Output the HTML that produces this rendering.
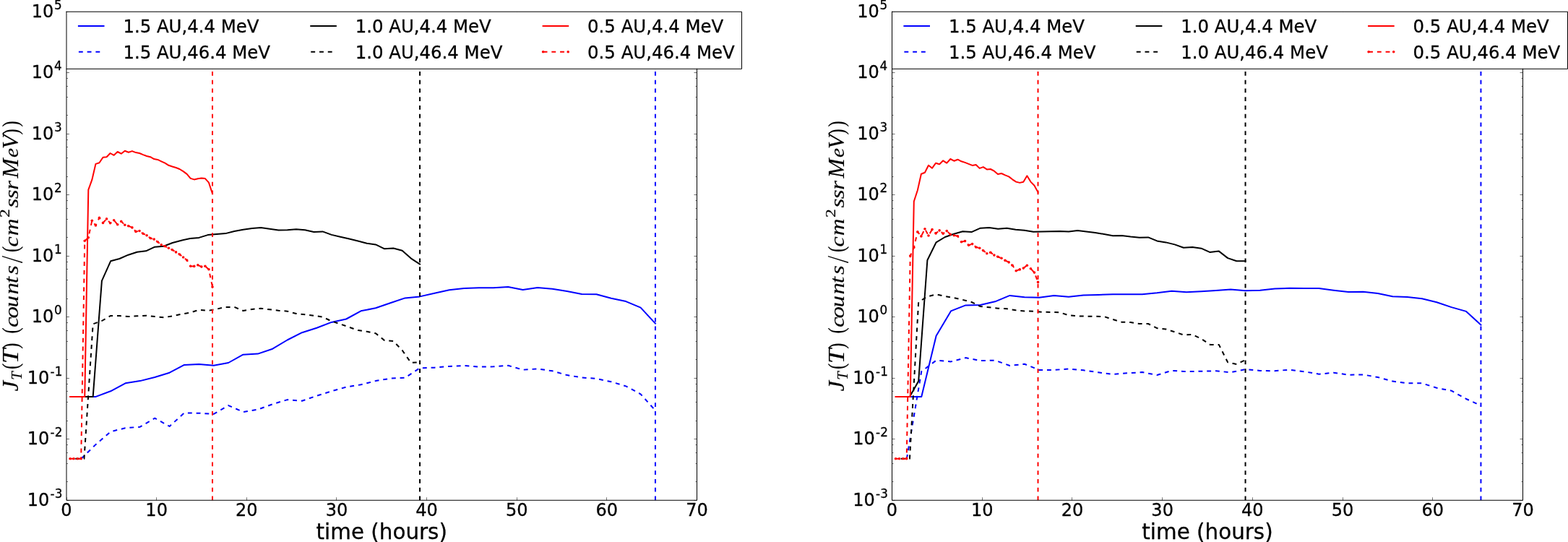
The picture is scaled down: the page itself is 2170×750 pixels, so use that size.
<!DOCTYPE html>
<html lang="en"><head><meta charset="utf-8"><title>J_T(T) versus time</title>
<style>html,body{margin:0;padding:0;background:#fff}body{width:2170px;height:750px;overflow:hidden}svg{display:block}text{font-family:'DejaVu Sans','Liberation Sans',sans-serif;fill:#000}.d text{stroke:#000;stroke-width:0.3px;stroke-linejoin:round}.m{font-family:'Liberation Serif','DejaVu Serif',serif;font-style:italic}.r{font-family:'Liberation Serif','DejaVu Serif',serif;font-style:normal}</style>
</head><body>
<svg width="2170" height="750" viewBox="0 0 2170 750">
<rect width="2170" height="750" fill="#fff"/>
<defs>
<clipPath id="c0"><rect x="92" y="16.25" width="872.5" height="676"/></clipPath>
<clipPath id="c1"><rect x="1234.5" y="16.25" width="873" height="676"/></clipPath>
</defs>
<g clip-path="url(#c0)">
<polyline points="112.37,548.9 132.75,548.9 153.12,541.3 173.49,530.3 193.87,527.1 214.24,522 234.62,515.7 254.99,504.9 275.36,504 295.74,505.7 316.11,502 336.48,490.7 356.86,489.6 377.23,482.7 397.6,470.5 417.98,460.2 438.35,453.8 458.73,445.9 479.1,441.5 499.47,430.3 519.85,426.3 540.22,419.3 560.59,412.4 580.97,410.4 601.34,405.7 621.71,401.3 642.09,398.9 662.46,398.3 682.84,398.3 703.21,396.9 723.58,401.1 743.96,398 764.33,399.7 784.7,402.9 805.08,406.9 825.45,407.2 845.83,412.8 866.2,417.1 886.57,425.6 906.95,447.7" fill="none" stroke="#0000ff" stroke-width="2" stroke-linejoin="round" stroke-linecap="square"/>
<polyline points="112.37,634.7 132.75,614.9 153.12,597.3 173.49,592.3 193.87,590.7 214.24,578.7 234.62,590 254.99,571.3 275.36,571.7 295.74,572.9 316.11,561.1 336.48,570 356.86,566.7 377.23,559.3 397.6,553.1 417.98,554.7 438.35,547.7 458.73,541.3 479.1,535.6 499.47,532.3 519.85,527.1 540.22,523.7 560.59,522.7 580.97,509.3 601.34,508.7 621.71,506.9 642.09,506 662.46,507.7 682.84,507.3 703.21,505.8 723.58,511.7 743.96,510.4 764.33,513.3 784.7,519.1 805.08,522.4 825.45,524 845.83,528.3 866.2,534.4 886.57,545.3 906.95,568" fill="none" stroke="#0000ff" stroke-width="2" stroke-linejoin="round" stroke-linecap="butt" stroke-dasharray="5.875 5.875"/>
<polyline points="104.23,548.9 116.45,548.9 128.68,548.9 140.91,388.7 153.13,361.3 165.36,358 177.58,352.7 189.81,348.7 202.04,347.3 214.26,341.7 226.49,340.7 238.72,336 250.94,332.7 263.17,330 275.4,328.9 287.62,325.1 299.85,324 312.07,323.1 324.3,320 336.53,317.7 348.75,316 360.98,314.9 373.21,316.7 385.43,318.4 397.66,318.3 409.89,317.3 422.11,318.3 434.34,320.9 446.56,320.4 458.79,324.9 471.02,327.7 483.24,330.5 495.47,333.5 507.7,336.7 519.92,338.4 532.15,344.3 544.38,343.5 556.6,346.7 568.83,357.6 581.05,365.6" fill="none" stroke="#000000" stroke-width="2" stroke-linejoin="round" stroke-linecap="square"/>
<polyline points="104.23,634.8 116.45,634.8 128.68,448.4 140.91,444 153.13,436.9 165.36,437.1 177.58,438 189.81,437.3 202.04,436.7 214.26,438.1 226.49,439.3 238.72,437.3 250.94,434.7 263.17,432.7 275.4,428.7 287.62,430 299.85,427.7 312.07,424.9 324.3,424.9 336.53,430 348.75,428 360.98,426.7 373.21,428.3 385.43,429.7 397.66,430.7 409.89,434 422.11,435.3 434.34,436.7 446.56,438.7 458.79,444.4 471.02,448.4 483.24,452.7 495.47,457.1 507.7,458.8 519.92,461.3 532.15,471.1 544.38,472 556.6,484.7 568.83,502 581.05,501.1" fill="none" stroke="#000000" stroke-width="2" stroke-linejoin="round" stroke-linecap="butt" stroke-dasharray="5.875 5.875"/>
<polyline points="97.05,548.9 102.1,548.9 107.15,548.9 112.2,548.9 117.25,548.9 122.3,262.7 127.35,248.7 132.4,226.9 137.45,225.3 142.5,217.7 147.55,217.3 152.6,212 157.65,214.8 162.7,210 167.75,212.7 172.8,208.7 177.85,210.7 182.9,209.1 187.95,211.1 193,212 198.05,214.1 203.1,216 208.15,217.2 213.2,220.1 218.25,220.9 223.3,223.3 228.35,225.6 233.4,228.8 238.46,230.5 243.51,232 248.56,234 253.61,237.1 258.66,240.9 263.71,246.9 268.76,248.4 273.81,247.3 278.86,246.5 283.91,247.1 288.96,252.7 294.01,268" fill="none" stroke="#ff0000" stroke-width="2" stroke-linejoin="round" stroke-linecap="square"/>
<polyline points="97.05,634.8 102.1,634.8 107.15,634.8 112.2,634.8 117.25,333.3 122.3,328.7 127.35,305.3 132.4,312 137.45,301.3 142.5,308.4 147.55,302.9 152.6,308.7 157.65,304.7 162.7,310.7 167.75,306.4 172.8,311.3 177.85,312.7 182.9,314.9 187.95,320.4 193,319.5 198.05,323.3 203.1,325.7 208.15,329.6 213.2,331.1 218.25,334.7 223.3,338.7 228.35,340.7 233.4,343.3 238.46,345.7 243.51,348.9 248.56,352 253.61,356 258.66,360 263.71,368.3 268.76,368.4 273.81,366.8 278.86,369.1 283.91,368.3 288.96,372.7 294.01,397" fill="none" stroke="#ff0000" stroke-width="2" stroke-linejoin="round" stroke-linecap="butt" stroke-dasharray="5.875 5.875"/><g fill="#ff0000"><circle cx="97.05" cy="634.8" r="1.8"/><circle cx="102.1" cy="634.8" r="1.8"/><circle cx="107.15" cy="634.8" r="1.8"/><circle cx="112.2" cy="634.8" r="1.8"/><circle cx="117.25" cy="333.3" r="1.8"/><circle cx="122.3" cy="328.7" r="1.8"/><circle cx="127.35" cy="305.3" r="1.8"/><circle cx="132.4" cy="312" r="1.8"/><circle cx="137.45" cy="301.3" r="1.8"/><circle cx="142.5" cy="308.4" r="1.8"/><circle cx="147.55" cy="302.9" r="1.8"/><circle cx="152.6" cy="308.7" r="1.8"/><circle cx="157.65" cy="304.7" r="1.8"/><circle cx="162.7" cy="310.7" r="1.8"/><circle cx="167.75" cy="306.4" r="1.8"/><circle cx="172.8" cy="311.3" r="1.8"/><circle cx="177.85" cy="312.7" r="1.8"/><circle cx="182.9" cy="314.9" r="1.8"/><circle cx="187.95" cy="320.4" r="1.8"/><circle cx="193" cy="319.5" r="1.8"/><circle cx="198.05" cy="323.3" r="1.8"/><circle cx="203.1" cy="325.7" r="1.8"/><circle cx="208.15" cy="329.6" r="1.8"/><circle cx="213.2" cy="331.1" r="1.8"/><circle cx="218.25" cy="334.7" r="1.8"/><circle cx="223.3" cy="338.7" r="1.8"/><circle cx="228.35" cy="340.7" r="1.8"/><circle cx="233.4" cy="343.3" r="1.8"/><circle cx="238.46" cy="345.7" r="1.8"/><circle cx="243.51" cy="348.9" r="1.8"/><circle cx="248.56" cy="352" r="1.8"/><circle cx="253.61" cy="356" r="1.8"/><circle cx="258.66" cy="360" r="1.8"/><circle cx="263.71" cy="368.3" r="1.8"/><circle cx="268.76" cy="368.4" r="1.8"/><circle cx="273.81" cy="366.8" r="1.8"/><circle cx="278.86" cy="369.1" r="1.8"/><circle cx="283.91" cy="368.3" r="1.8"/><circle cx="288.96" cy="372.7" r="1.8"/><circle cx="294.01" cy="397" r="1.8"/></g>
<line x1="294.01" y1="692.25" x2="294.01" y2="16.25" stroke="#ff0000" stroke-width="2" stroke-dasharray="5.875 5.875"/>
<line x1="581.05" y1="692.25" x2="581.05" y2="16.25" stroke="#000000" stroke-width="2" stroke-dasharray="5.875 5.875"/>
<line x1="906.95" y1="692.25" x2="906.95" y2="16.25" stroke="#0000ff" stroke-width="2" stroke-dasharray="5.875 5.875"/>
</g>
<path d="M92.5,692.25v-4M92.5,16.25v4M216.5,692.25v-4M216.5,16.25v4M341.5,692.25v-4M341.5,16.25v4M465.5,692.25v-4M465.5,16.25v4M590.5,692.25v-4M590.5,16.25v4M715.5,692.25v-4M715.5,16.25v4M839.5,692.25v-4M839.5,16.25v4M964.5,692.25v-4M964.5,16.25v4M92,692.5h4M964.5,692.5h-4M92,607.5h4M964.5,607.5h-4M92,523.5h4M964.5,523.5h-4M92,438.5h4M964.5,438.5h-4M92,354.5h4M964.5,354.5h-4M92,269.5h4M964.5,269.5h-4M92,185.5h4M964.5,185.5h-4M92,100.5h4M964.5,100.5h-4M92,16.5h4M964.5,16.5h-4" stroke="#000" stroke-width="0.55" fill="none"/>
<path d="M92,666.5h2M964.5,666.5h-2M92,641.5h2M964.5,641.5h-2M92,626.5h2M964.5,626.5h-2M92,615.5h2M964.5,615.5h-2M92,582.5h2M964.5,582.5h-2M92,556.5h2M964.5,556.5h-2M92,541.5h2M964.5,541.5h-2M92,531.5h2M964.5,531.5h-2M92,497.5h2M964.5,497.5h-2M92,472.5h2M964.5,472.5h-2M92,457.5h2M964.5,457.5h-2M92,446.5h2M964.5,446.5h-2M92,413.5h2M964.5,413.5h-2M92,387.5h2M964.5,387.5h-2M92,372.5h2M964.5,372.5h-2M92,362.5h2M964.5,362.5h-2M92,328.5h2M964.5,328.5h-2M92,303.5h2M964.5,303.5h-2M92,288.5h2M964.5,288.5h-2M92,277.5h2M964.5,277.5h-2M92,244.5h2M964.5,244.5h-2M92,218.5h2M964.5,218.5h-2M92,203.5h2M964.5,203.5h-2M92,193.5h2M964.5,193.5h-2M92,159.5h2M964.5,159.5h-2M92,134.5h2M964.5,134.5h-2M92,119.5h2M964.5,119.5h-2M92,108.5h2M964.5,108.5h-2M92,75.5h2M964.5,75.5h-2M92,49.5h2M964.5,49.5h-2M92,34.5h2M964.5,34.5h-2M92,24.5h2M964.5,24.5h-2" stroke="#000" stroke-width="0.55" fill="none"/>
<rect x="92" y="16.25" width="934.5" height="79.1" fill="#fff"/>
<path d="M92,16.25H1026.5V95.35H92M92,16.25V692.25H964.5V95.35" fill="none" stroke="#000" stroke-width="1" stroke-linecap="square"/>
<g class="d" font-size="24" text-anchor="middle">
<text transform="translate(92,714.4) scale(1,1.03)">0</text>
<text transform="translate(216.64,714.4) scale(1,1.03)">10</text>
<text transform="translate(341.29,714.4) scale(1,1.03)">20</text>
<text transform="translate(465.93,714.4) scale(1,1.03)">30</text>
<text transform="translate(590.57,714.4) scale(1,1.03)">40</text>
<text transform="translate(715.21,714.4) scale(1,1.03)">50</text>
<text transform="translate(839.86,714.4) scale(1,1.03)">60</text>
<text transform="translate(964.5,714.4) scale(1,1.03)">70</text>
</g>
<g class="d">
<text x="37.8" y="699.75" font-size="24">10</text><text x="69.6" y="688.55" font-size="16.8">-3</text>
<text x="37.8" y="615.25" font-size="24">10</text><text x="69.6" y="604.05" font-size="16.8">-2</text>
<text x="37.8" y="530.75" font-size="24">10</text><text x="69.6" y="519.55" font-size="16.8">-1</text>
<text x="43.8" y="446.25" font-size="24">10</text><text x="75.1" y="435.05" font-size="16.8">0</text>
<text x="43.8" y="361.75" font-size="24">10</text><text x="75.1" y="350.55" font-size="16.8">1</text>
<text x="43.8" y="277.25" font-size="24">10</text><text x="75.1" y="266.05" font-size="16.8">2</text>
<text x="43.8" y="192.75" font-size="24">10</text><text x="75.1" y="181.55" font-size="16.8">3</text>
<text x="43.8" y="108.25" font-size="24">10</text><text x="75.1" y="97.05" font-size="16.8">4</text>
<text x="43.8" y="23.75" font-size="24">10</text><text x="75.1" y="12.55" font-size="16.8">5</text>
</g>
<g class="d"><text x="528.25" y="745.8" font-size="29.4" text-anchor="middle">time (hours)</text></g>
<g transform="translate(25.1,542) rotate(-90)" stroke="#000" stroke-width="0.15" stroke-linejoin="round">
<text class="m" font-size="31" transform="scale(1.06,1)" x="0.53" y="0">J</text><text class="m" font-size="20.6" transform="scale(1,1)" x="16.24" y="5.2">T</text><text class="r" font-size="32.3" transform="scale(0.76,1)" x="40.95" y="0">(</text><text class="m" font-size="31" transform="scale(1.2,1)" x="32.37" y="0">T</text><text class="r" font-size="32.3" transform="scale(0.76,1)" x="77.9" y="0">)</text><text class="r" font-size="32.3" transform="scale(0.76,1)" x="105.95" y="0">(</text><text class="m" font-size="28.2" transform="scale(1.17,1)" x="76.15 86.75 99.59 114.96 128.3 138.36" y="0">counts</text><text class="m" font-size="43" transform="scale(0.58,1)" x="308.89" y="6.3">/</text><text class="r" font-size="32.3" transform="scale(0.76,1)" x="253.97" y="0">(</text><text class="m" font-size="28.2" transform="scale(1.17,1)" x="171.24 184.34" y="0">cm</text><text class="r" font-size="19.6" transform="scale(1.2,1)" x="200.84" y="-11.8">2</text><text class="m" font-size="28.2" transform="scale(1.17,1)" x="217.63 228.1 238.77" y="0">ssr</text><text class="m" font-size="31" transform="scale(1.05,1)" x="281.56 308.62 319.66" y="0">M<tspan font-size="28.2">e</tspan>V</text><text class="r" font-size="32.3" transform="scale(0.76,1)" x="467.77 482.25" y="0">))</text>
</g>
<g class="d" font-size="24.4">
<line x1="108.9" y1="36" x2="143.5" y2="36" stroke="#0000ff" stroke-width="2" stroke-linecap="square"/>
<text transform="translate(170.4,45) scale(1,1.04)">1.5 AU,4.4 MeV</text>
<line x1="108.9" y1="71.7" x2="143.5" y2="71.7" stroke="#0000ff" stroke-width="2" stroke-dasharray="5.875 5.875"/>
<text transform="translate(170.4,80.6) scale(1,1.04)">1.5 AU,46.4 MeV</text>
<line x1="430.25" y1="36" x2="464.85" y2="36" stroke="#000000" stroke-width="2" stroke-linecap="square"/>
<text transform="translate(491.75,45) scale(1,1.04)">1.0 AU,4.4 MeV</text>
<line x1="430.25" y1="71.7" x2="464.85" y2="71.7" stroke="#000000" stroke-width="2" stroke-dasharray="5.875 5.875"/>
<text transform="translate(491.75,80.6) scale(1,1.04)">1.0 AU,46.4 MeV</text>
<line x1="751.6" y1="36" x2="786.2" y2="36" stroke="#ff0000" stroke-width="2" stroke-linecap="square"/>
<text transform="translate(813.1,45) scale(1,1.04)">0.5 AU,4.4 MeV</text>
<line x1="751.6" y1="71.7" x2="786.2" y2="71.7" stroke="#ff0000" stroke-width="2" stroke-dasharray="5.875 5.875"/>
<circle cx="751.6" cy="71.7" r="1.8" fill="#ff0000"/><circle cx="786.2" cy="71.7" r="1.8" fill="#ff0000"/>
<text transform="translate(813.1,80.6) scale(1,1.04)">0.5 AU,46.4 MeV</text>
</g>
<g clip-path="url(#c1)">
<polyline points="1254.87,548.9 1275.25,548.9 1295.62,464.7 1315.99,430.4 1336.37,422.4 1356.74,422 1377.12,417.3 1397.49,408.9 1417.86,411.3 1438.24,411.8 1458.61,408.9 1478.98,410.7 1499.36,408.4 1519.73,408 1540.1,407.3 1560.48,407.3 1580.85,407.3 1601.23,405.3 1621.6,402.7 1641.97,404.2 1662.35,403.3 1682.72,402 1703.09,400.4 1723.47,402.3 1743.84,401.7 1764.21,399.6 1784.59,398.7 1804.96,398.9 1825.34,399.1 1845.71,401.7 1866.08,404 1886.46,403.7 1906.83,406 1927.2,410.2 1947.58,411.1 1967.95,413.2 1988.33,418.2 2008.7,425.1 2029.07,430.9 2049.45,449.6" fill="none" stroke="#0000ff" stroke-width="2" stroke-linejoin="round" stroke-linecap="square"/>
<polyline points="1254.87,634.8 1275.25,514 1295.62,498.7 1315.99,500.4 1336.37,495.1 1356.74,499.1 1377.12,498.7 1397.49,506 1417.86,503.7 1438.24,512 1458.61,512 1478.98,510.4 1499.36,512.3 1519.73,515.3 1540.1,518 1560.48,516.3 1580.85,515.1 1601.23,519 1621.6,512.8 1641.97,514.2 1662.35,513.7 1682.72,513.3 1703.09,515.3 1723.47,511.1 1743.84,512.9 1764.21,513.3 1784.59,511.6 1804.96,514.2 1825.34,517.7 1845.71,515.7 1866.08,518.7 1886.46,518.4 1906.83,522 1927.2,527.6 1947.58,530.3 1967.95,530.3 1988.33,536.8 2008.7,540.7 2029.07,552 2049.45,561.3" fill="none" stroke="#0000ff" stroke-width="2" stroke-linejoin="round" stroke-linecap="butt" stroke-dasharray="5.875 5.875"/>
<polyline points="1246.73,548.9 1258.95,548.9 1271.18,527.3 1283.41,360 1295.63,335.3 1307.86,328 1320.08,323.7 1332.31,320.3 1344.54,321.1 1356.76,315.7 1368.99,315.1 1381.22,316.7 1393.44,315.7 1405.67,317.7 1417.9,318.7 1430.12,320.7 1442.35,320.5 1454.57,320.3 1466.8,320 1479.03,320.4 1491.25,319.1 1503.48,320.4 1515.71,322 1527.93,324 1540.16,326.3 1552.39,326 1564.61,327.6 1576.84,328.7 1589.06,328.4 1601.29,333.4 1613.52,335.4 1625.74,338.4 1637.97,342.8 1650.2,341.9 1662.42,343.7 1674.65,349.1 1686.88,347.6 1699.1,357.1 1711.33,361.3 1723.55,361.3" fill="none" stroke="#000000" stroke-width="2" stroke-linejoin="round" stroke-linecap="square"/>
<polyline points="1246.73,634.8 1258.95,634.8 1271.18,418 1283.41,410.4 1295.63,407.3 1307.86,410 1320.08,412 1332.31,414.9 1344.54,418 1356.76,424 1368.99,425.3 1381.22,426.7 1393.44,427.3 1405.67,429.3 1417.9,430.4 1430.12,430.7 1442.35,431.7 1454.57,432 1466.8,432.3 1479.03,436.3 1491.25,437.3 1503.48,437.7 1515.71,437.7 1527.93,438 1540.16,442 1552.39,445.7 1564.61,446 1576.84,448 1589.06,448 1601.29,454.2 1613.52,455.5 1625.74,459.4 1637.97,463.5 1650.2,462.8 1662.42,468.8 1674.65,476.9 1686.88,476.9 1699.1,501.3 1711.33,504 1723.55,498" fill="none" stroke="#000000" stroke-width="2" stroke-linejoin="round" stroke-linecap="butt" stroke-dasharray="5.875 5.875"/>
<polyline points="1239.55,548.9 1244.6,548.9 1249.65,548.9 1254.7,548.9 1259.75,548.9 1264.8,278.7 1269.85,263.3 1274.9,240.7 1279.95,238.7 1285,228.7 1290.05,232.7 1295.1,225.7 1300.15,227.3 1305.2,222.3 1310.25,225.7 1315.3,220 1320.35,222.7 1325.4,220.7 1330.45,223.3 1335.5,224.9 1340.55,226.9 1345.6,228.9 1350.65,228 1355.7,232.9 1360.75,231.1 1365.8,234.4 1370.85,234 1375.9,236.7 1380.96,241.1 1386.01,240 1391.06,242.4 1396.11,244.4 1401.16,248.3 1406.21,251.6 1411.26,252.9 1416.31,251.7 1421.36,243.3 1426.41,251.6 1431.46,256.7 1436.51,266" fill="none" stroke="#ff0000" stroke-width="2" stroke-linejoin="round" stroke-linecap="square"/>
<polyline points="1239.55,634.8 1244.6,634.8 1249.65,634.8 1254.7,634.8 1259.75,354 1264.8,342.4 1269.85,320.7 1274.9,326.9 1279.95,316.7 1285,326 1290.05,317.6 1295.1,322.9 1300.15,318.9 1305.2,323.3 1310.25,319.6 1315.3,324.4 1320.35,325.7 1325.4,326.7 1330.45,334.7 1335.5,333.6 1340.55,339.3 1345.6,337.6 1350.65,342 1355.7,343.3 1360.75,346.7 1365.8,350.7 1370.85,349.3 1375.9,353.1 1380.96,355.3 1386.01,357.3 1391.06,360.4 1396.11,362.9 1401.16,367.3 1406.21,374.7 1411.26,372.9 1416.31,371.1 1421.36,367.3 1426.41,371.7 1431.46,377.1 1436.51,390.4" fill="none" stroke="#ff0000" stroke-width="2" stroke-linejoin="round" stroke-linecap="butt" stroke-dasharray="5.875 5.875"/><g fill="#ff0000"><circle cx="1239.55" cy="634.8" r="1.8"/><circle cx="1244.6" cy="634.8" r="1.8"/><circle cx="1249.65" cy="634.8" r="1.8"/><circle cx="1254.7" cy="634.8" r="1.8"/><circle cx="1259.75" cy="354" r="1.8"/><circle cx="1264.8" cy="342.4" r="1.8"/><circle cx="1269.85" cy="320.7" r="1.8"/><circle cx="1274.9" cy="326.9" r="1.8"/><circle cx="1279.95" cy="316.7" r="1.8"/><circle cx="1285" cy="326" r="1.8"/><circle cx="1290.05" cy="317.6" r="1.8"/><circle cx="1295.1" cy="322.9" r="1.8"/><circle cx="1300.15" cy="318.9" r="1.8"/><circle cx="1305.2" cy="323.3" r="1.8"/><circle cx="1310.25" cy="319.6" r="1.8"/><circle cx="1315.3" cy="324.4" r="1.8"/><circle cx="1320.35" cy="325.7" r="1.8"/><circle cx="1325.4" cy="326.7" r="1.8"/><circle cx="1330.45" cy="334.7" r="1.8"/><circle cx="1335.5" cy="333.6" r="1.8"/><circle cx="1340.55" cy="339.3" r="1.8"/><circle cx="1345.6" cy="337.6" r="1.8"/><circle cx="1350.65" cy="342" r="1.8"/><circle cx="1355.7" cy="343.3" r="1.8"/><circle cx="1360.75" cy="346.7" r="1.8"/><circle cx="1365.8" cy="350.7" r="1.8"/><circle cx="1370.85" cy="349.3" r="1.8"/><circle cx="1375.9" cy="353.1" r="1.8"/><circle cx="1380.96" cy="355.3" r="1.8"/><circle cx="1386.01" cy="357.3" r="1.8"/><circle cx="1391.06" cy="360.4" r="1.8"/><circle cx="1396.11" cy="362.9" r="1.8"/><circle cx="1401.16" cy="367.3" r="1.8"/><circle cx="1406.21" cy="374.7" r="1.8"/><circle cx="1411.26" cy="372.9" r="1.8"/><circle cx="1416.31" cy="371.1" r="1.8"/><circle cx="1421.36" cy="367.3" r="1.8"/><circle cx="1426.41" cy="371.7" r="1.8"/><circle cx="1431.46" cy="377.1" r="1.8"/><circle cx="1436.51" cy="390.4" r="1.8"/></g>
<line x1="1436.51" y1="692.25" x2="1436.51" y2="16.25" stroke="#ff0000" stroke-width="2" stroke-dasharray="5.875 5.875"/>
<line x1="1723.55" y1="692.25" x2="1723.55" y2="16.25" stroke="#000000" stroke-width="2" stroke-dasharray="5.875 5.875"/>
<line x1="2049.45" y1="692.25" x2="2049.45" y2="16.25" stroke="#0000ff" stroke-width="2" stroke-dasharray="5.875 5.875"/>
</g>
<path d="M1234.5,692.25v-4M1234.5,16.25v4M1359.5,692.25v-4M1359.5,16.25v4M1483.5,692.25v-4M1483.5,16.25v4M1608.5,692.25v-4M1608.5,16.25v4M1733.5,692.25v-4M1733.5,16.25v4M1858.5,692.25v-4M1858.5,16.25v4M1982.5,692.25v-4M1982.5,16.25v4M2107.5,692.25v-4M2107.5,16.25v4M1234.5,692.5h4M2107.5,692.5h-4M1234.5,607.5h4M2107.5,607.5h-4M1234.5,523.5h4M2107.5,523.5h-4M1234.5,438.5h4M2107.5,438.5h-4M1234.5,354.5h4M2107.5,354.5h-4M1234.5,269.5h4M2107.5,269.5h-4M1234.5,185.5h4M2107.5,185.5h-4M1234.5,100.5h4M2107.5,100.5h-4M1234.5,16.5h4M2107.5,16.5h-4" stroke="#000" stroke-width="0.55" fill="none"/>
<path d="M1234.5,666.5h2M2107.5,666.5h-2M1234.5,641.5h2M2107.5,641.5h-2M1234.5,626.5h2M2107.5,626.5h-2M1234.5,615.5h2M2107.5,615.5h-2M1234.5,582.5h2M2107.5,582.5h-2M1234.5,556.5h2M2107.5,556.5h-2M1234.5,541.5h2M2107.5,541.5h-2M1234.5,531.5h2M2107.5,531.5h-2M1234.5,497.5h2M2107.5,497.5h-2M1234.5,472.5h2M2107.5,472.5h-2M1234.5,457.5h2M2107.5,457.5h-2M1234.5,446.5h2M2107.5,446.5h-2M1234.5,413.5h2M2107.5,413.5h-2M1234.5,387.5h2M2107.5,387.5h-2M1234.5,372.5h2M2107.5,372.5h-2M1234.5,362.5h2M2107.5,362.5h-2M1234.5,328.5h2M2107.5,328.5h-2M1234.5,303.5h2M2107.5,303.5h-2M1234.5,288.5h2M2107.5,288.5h-2M1234.5,277.5h2M2107.5,277.5h-2M1234.5,244.5h2M2107.5,244.5h-2M1234.5,218.5h2M2107.5,218.5h-2M1234.5,203.5h2M2107.5,203.5h-2M1234.5,193.5h2M2107.5,193.5h-2M1234.5,159.5h2M2107.5,159.5h-2M1234.5,134.5h2M2107.5,134.5h-2M1234.5,119.5h2M2107.5,119.5h-2M1234.5,108.5h2M2107.5,108.5h-2M1234.5,75.5h2M2107.5,75.5h-2M1234.5,49.5h2M2107.5,49.5h-2M1234.5,34.5h2M2107.5,34.5h-2M1234.5,24.5h2M2107.5,24.5h-2" stroke="#000" stroke-width="0.55" fill="none"/>
<rect x="1234.5" y="16.25" width="935" height="79.1" fill="#fff"/>
<path d="M1234.5,16.25H2169.5V95.35H1234.5M1234.5,16.25V692.25H2107.5V95.35" fill="none" stroke="#000" stroke-width="1" stroke-linecap="square"/>
<g class="d" font-size="24" text-anchor="middle">
<text transform="translate(1234.5,714.4) scale(1,1.03)">0</text>
<text transform="translate(1359.21,714.4) scale(1,1.03)">10</text>
<text transform="translate(1483.93,714.4) scale(1,1.03)">20</text>
<text transform="translate(1608.64,714.4) scale(1,1.03)">30</text>
<text transform="translate(1733.36,714.4) scale(1,1.03)">40</text>
<text transform="translate(1858.07,714.4) scale(1,1.03)">50</text>
<text transform="translate(1982.79,714.4) scale(1,1.03)">60</text>
<text transform="translate(2107.5,714.4) scale(1,1.03)">70</text>
</g>
<g class="d">
<text x="1180.3" y="699.75" font-size="24">10</text><text x="1212.1" y="688.55" font-size="16.8">-3</text>
<text x="1180.3" y="615.25" font-size="24">10</text><text x="1212.1" y="604.05" font-size="16.8">-2</text>
<text x="1180.3" y="530.75" font-size="24">10</text><text x="1212.1" y="519.55" font-size="16.8">-1</text>
<text x="1186.3" y="446.25" font-size="24">10</text><text x="1217.6" y="435.05" font-size="16.8">0</text>
<text x="1186.3" y="361.75" font-size="24">10</text><text x="1217.6" y="350.55" font-size="16.8">1</text>
<text x="1186.3" y="277.25" font-size="24">10</text><text x="1217.6" y="266.05" font-size="16.8">2</text>
<text x="1186.3" y="192.75" font-size="24">10</text><text x="1217.6" y="181.55" font-size="16.8">3</text>
<text x="1186.3" y="108.25" font-size="24">10</text><text x="1217.6" y="97.05" font-size="16.8">4</text>
<text x="1186.3" y="23.75" font-size="24">10</text><text x="1217.6" y="12.55" font-size="16.8">5</text>
</g>
<g class="d"><text x="1671" y="745.8" font-size="29.4" text-anchor="middle">time (hours)</text></g>
<g transform="translate(1167.6,542) rotate(-90)" stroke="#000" stroke-width="0.15" stroke-linejoin="round">
<text class="m" font-size="31" transform="scale(1.06,1)" x="0.53" y="0">J</text><text class="m" font-size="20.6" transform="scale(1,1)" x="16.24" y="5.2">T</text><text class="r" font-size="32.3" transform="scale(0.76,1)" x="40.95" y="0">(</text><text class="m" font-size="31" transform="scale(1.2,1)" x="32.37" y="0">T</text><text class="r" font-size="32.3" transform="scale(0.76,1)" x="77.9" y="0">)</text><text class="r" font-size="32.3" transform="scale(0.76,1)" x="105.95" y="0">(</text><text class="m" font-size="28.2" transform="scale(1.17,1)" x="76.15 86.75 99.59 114.96 128.3 138.36" y="0">counts</text><text class="m" font-size="43" transform="scale(0.58,1)" x="308.89" y="6.3">/</text><text class="r" font-size="32.3" transform="scale(0.76,1)" x="253.97" y="0">(</text><text class="m" font-size="28.2" transform="scale(1.17,1)" x="171.24 184.34" y="0">cm</text><text class="r" font-size="19.6" transform="scale(1.2,1)" x="200.84" y="-11.8">2</text><text class="m" font-size="28.2" transform="scale(1.17,1)" x="217.63 228.1 238.77" y="0">ssr</text><text class="m" font-size="31" transform="scale(1.05,1)" x="281.56 308.62 319.66" y="0">M<tspan font-size="28.2">e</tspan>V</text><text class="r" font-size="32.3" transform="scale(0.76,1)" x="467.77 482.25" y="0">))</text>
</g>
<g class="d" font-size="24.4">
<line x1="1251.4" y1="36" x2="1286" y2="36" stroke="#0000ff" stroke-width="2" stroke-linecap="square"/>
<text transform="translate(1312.9,45) scale(1,1.04)">1.5 AU,4.4 MeV</text>
<line x1="1251.4" y1="71.7" x2="1286" y2="71.7" stroke="#0000ff" stroke-width="2" stroke-dasharray="5.875 5.875"/>
<text transform="translate(1312.9,80.6) scale(1,1.04)">1.5 AU,46.4 MeV</text>
<line x1="1572.75" y1="36" x2="1607.35" y2="36" stroke="#000000" stroke-width="2" stroke-linecap="square"/>
<text transform="translate(1634.25,45) scale(1,1.04)">1.0 AU,4.4 MeV</text>
<line x1="1572.75" y1="71.7" x2="1607.35" y2="71.7" stroke="#000000" stroke-width="2" stroke-dasharray="5.875 5.875"/>
<text transform="translate(1634.25,80.6) scale(1,1.04)">1.0 AU,46.4 MeV</text>
<line x1="1894.1" y1="36" x2="1928.7" y2="36" stroke="#ff0000" stroke-width="2" stroke-linecap="square"/>
<text transform="translate(1955.6,45) scale(1,1.04)">0.5 AU,4.4 MeV</text>
<line x1="1894.1" y1="71.7" x2="1928.7" y2="71.7" stroke="#ff0000" stroke-width="2" stroke-dasharray="5.875 5.875"/>
<circle cx="1894.1" cy="71.7" r="1.8" fill="#ff0000"/><circle cx="1928.7" cy="71.7" r="1.8" fill="#ff0000"/>
<text transform="translate(1955.6,80.6) scale(1,1.04)">0.5 AU,46.4 MeV</text>
</g>
</svg>
</body></html>
